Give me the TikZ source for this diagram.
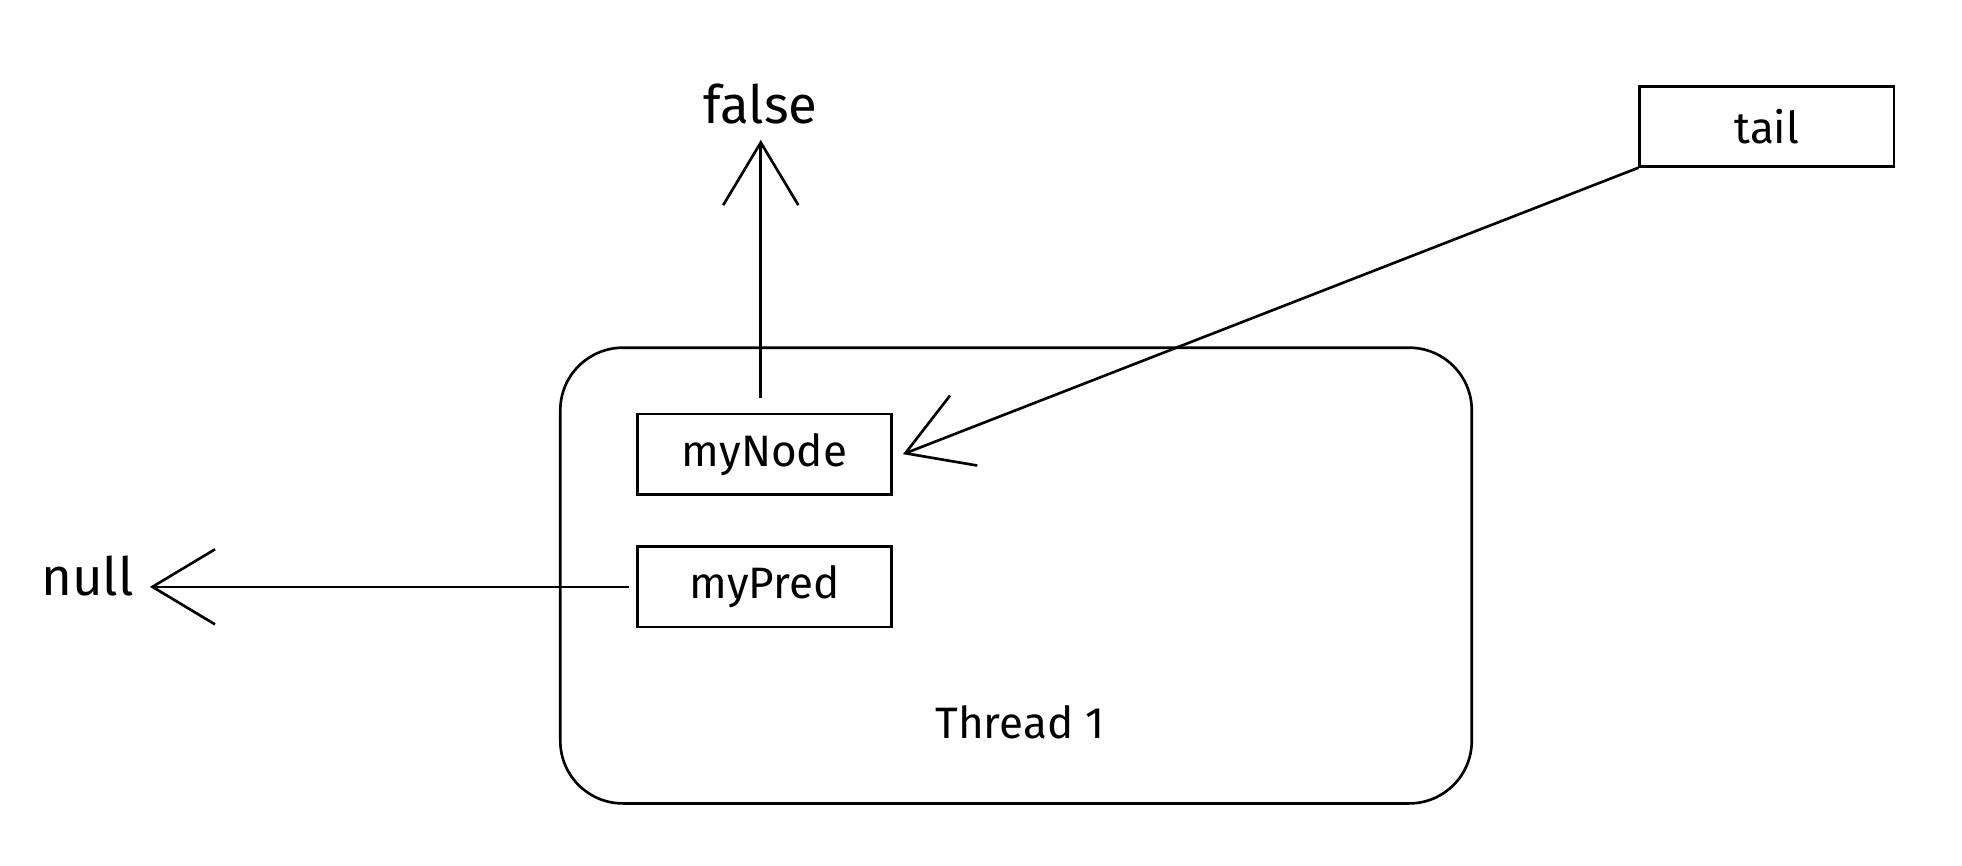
\documentclass[tikz,border=0pt]{standalone}
\usepackage{fontspec}
\setmainfont{Fira Sans}
\usetikzlibrary{arrows.meta,positioning}
\begin{document}
\begin{tikzpicture}[x=0.01cm,y=-0.01cm,semithick,
                    >={Straight Barb[length=5mm,width=6mm]},
                    field/.style={draw,minimum width=2.03cm,minimum height=0.64cm,font=\normalsize},
                    word/.style={font=\large}]
  \useasboundingbox (0,0) rectangle (1568,692);

  \node[draw,rounded corners=0.5cm,minimum width=7.28cm,minimum height=3.64cm]
                            (T)    at (812,460) {};
  \node[field] (N)    at (611,363) {myNode};
  \node[field] (P)    at (611,469) {myPred};
  \node[field] (tail) at (1412,101) {tail};
  \node[font=\normalsize]   (lbl)  at (815,577) {Thread 1};
  \node[word]  (F)    at (608,83)  {false};
  \node[word]  (null) at (70,460)  {null};

  \draw[->] ([yshift=0.12cm]N.north -| F) -- (F.south);
  \draw[->] (tail.south west) -- ([xshift=0.08cm]N.east);
  \draw[->] ([xshift=-0.06cm]P.west) -- (P.west -| null.east);
\end{tikzpicture}
\end{document}
